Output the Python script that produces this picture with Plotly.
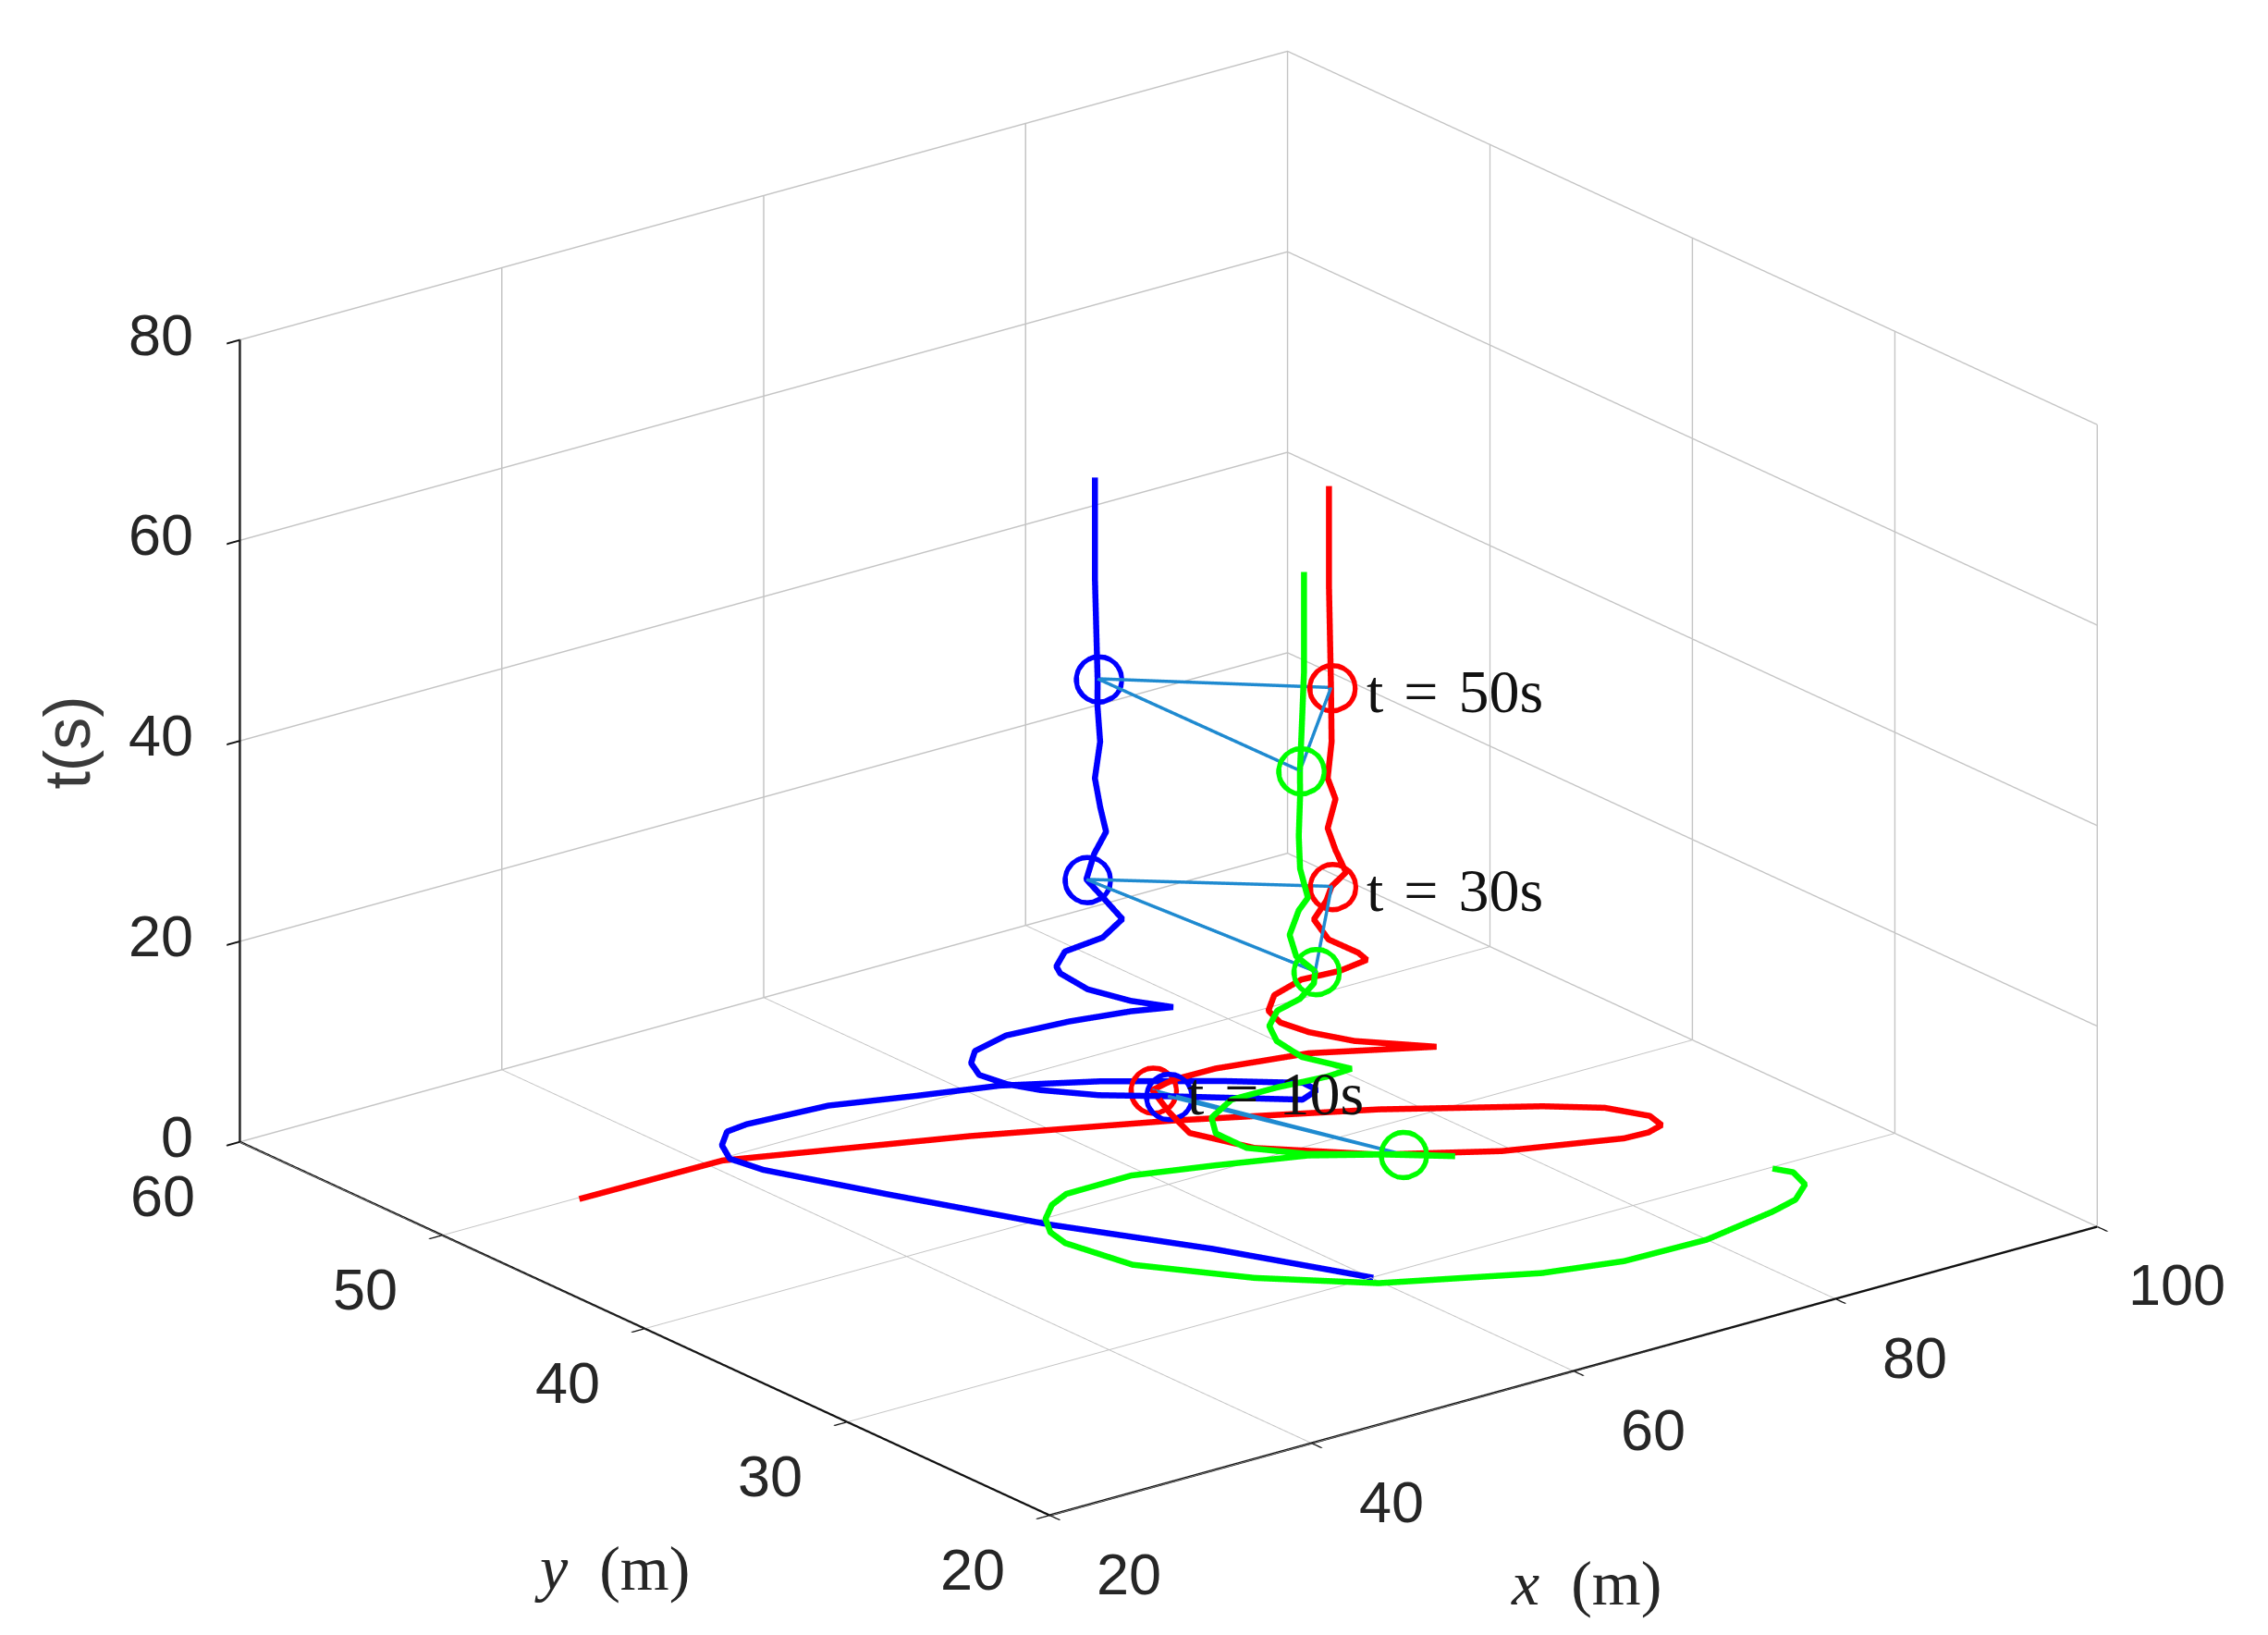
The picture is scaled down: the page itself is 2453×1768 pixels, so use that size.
import plotly.graph_objects as go

# trajectories: time (s), x (m), y (m)
blue_t = [0, 0.8, 1.6, 2.4, 3.0, 3.3, 3.6, 3.9, 4.2, 5.0, 5.8, 6.6, 7.4, 8.2, 8.8, 9.2,
          9.6, 10, 10.5, 11, 11.6, 12.4, 13.2, 14, 15, 16, 16.8, 17.4, 18, 19, 20, 20.8,
          22.2, 23.6, 25.2, 27.4, 30, 32.5, 34.5, 37, 40, 43.5, 47, 50, 60, 70]
blue_x = [60.1, 54.6, 48.5, 43.0, 39.0, 38.24, 38.95, 40.3, 41.7, 46.7, 51.05, 55.3, 59.7,
          64.8, 67.8, 67.3, 65.2, 58.7, 55.0, 52.2, 50.6, 49.4, 49.4, 50.0, 52.1, 55.5,
          58.7, 60.5, 58.5, 56.6, 55.9, 55.6, 56.1, 57.9, 59.1, 58.1, 56.5, 56.95, 57.7,
          57.4, 57.0, 57.4, 57.35, 57.05, 57.0, 57.0]
blue_y = [29.95, 34.3, 38.4, 42.95, 46.45, 47.6, 48.45, 49.07, 49.0, 48.2, 46.7, 45.3,
          43.2, 40.4, 38.4, 37.4, 36.75, 39.2, 40.2, 41.3, 41.9, 42.5, 42.9, 43.1, 42.9,
          42.0, 41.0, 40.1, 40.9, 41.8, 42.7, 42.7, 42.6, 41.9, 41.7, 42.0, 41.8, 41.7,
          41.6, 41.7, 41.7, 41.7, 41.8, 41.6, 41.7, 41.7]

red_t = [0, 0.8, 1.8, 2.6, 3.4, 4.2, 4.6, 4.9, 5.3, 5.6, 5.9, 6.8, 7.6, 8.4, 9.0, 9.5, 10,
         10.6, 11.3, 12.2, 13.2, 13.8, 14.6, 15.6, 16.8, 18.2, 19.6, 20.6, 21.4, 22.2,
         23.6, 25.4, 27.4, 30, 31.0, 33.5, 35.9, 38.6, 40.9, 44.4, 50, 60, 70]
red_x = [30.3, 40.3, 53.6, 64.1, 74.3, 81.6, 84.0, 85.0, 84.2, 82.5, 80.4, 72.3, 65.25,
         59.15, 56.97, 57.6, 58.6, 60.1, 62.5, 67.6, 73.35, 69.4, 67.3, 65.9, 65.3, 65.75,
         67.2, 68.9, 70.5, 70.0, 68.5, 68.0, 68.5, 67.5, 68.6, 67.8, 67.2, 67.8, 67.2,
         67.5, 67.3, 67.3, 67.3]
red_y = [49.9, 49.3, 45.7, 42.45, 38.85, 35.5, 33.98, 32.4, 31.3, 30.85, 30.7, 31.5, 33.0,
         35.2, 37.0, 38.4, 39.9, 39.8, 39.3, 38.0, 35.4, 36.9, 37.8, 38.3, 38.5, 38.5,
         38.1, 37.3, 37.0, 37.1, 37.6, 38.0, 37.7, 36.8, 36.8, 36.8, 36.8, 36.8, 36.8,
         36.8, 36.7, 36.8, 36.8]

green_t = [0, 0.2, 0.5, 0.85, 1.2, 2.0, 2.8, 3.5, 4.6, 5.4, 6.2, 6.8, 7.05, 7.3, 7.55, 7.8,
           8.3, 8.8, 9.3, 10, 10.4, 11.2, 12, 12.8, 13.6, 14.4, 15.2, 16.2, 17.4, 18.4,
           19.6, 21, 22.4, 24, 25.6, 27.2, 30, 31.9, 34.2, 36.4, 37.4, 40.5, 43.8, 47.7,
           50, 60, 70]
green_x = [90.5, 90.9, 89.9, 87.5, 84.8, 77.9, 70.9, 65.0, 55.0, 48.8, 43.5, 41.9, 42.05,
           42.95, 44.44, 46.0, 50.5, 55.0, 60.0, 63.9, 65.8, 61.05, 57.3, 54.2, 53.4, 54.0,
           56.0, 58.4, 60.65, 61.6, 59.2, 58.2, 57.95, 58.25, 58.9, 59.5, 57.9, 56.6, 56.1,
           56.8, 57.5, 56.9, 56.8, 56.9, 57.2, 57.2, 57.2]
green_y = [29.9, 29.14, 27.9, 26.82, 26.2, 25.0, 24.55, 24.8, 26.4, 28.5, 31.1, 33.4,
           34.23, 35.05, 35.7, 36.0, 35.7, 34.5, 33.1, 30.97, 29.6, 30.8, 31.4, 32.4, 33.4,
           34.0, 34.3, 33.6, 32.6, 32.0, 32.9, 33.5, 33.7, 33.5, 32.8, 32.5, 31.4, 31.5,
           31.5, 31.5, 31.5, 31.5, 31.5, 31.5, 31.7, 31.5, 31.5]

mark_times = [10, 30, 50]
mark_labels = ["t\u2004=\u200410s", "t\u2004=\u200430s", "t\u2004=\u200450s"]

x_ticks = [20, 40, 60, 80, 100]
y_ticks = [20, 30, 40, 50, 60]
t_ticks = [0, 20, 40, 60, 80]

agents = [
    ("blue", blue_t, blue_x, blue_y, "#0000FF"),
    ("red", red_t, red_x, red_y, "#FF0000"),
    ("green", green_t, green_x, green_y, "#00FF00"),
]


def at(ts, vs, tm):
    return vs[ts.index(tm)]


fig = go.Figure()

for name, ts, xs, ys, col in agents:
    fig.add_trace(go.Scatter3d(x=xs, y=ys, z=ts, mode="lines",
                               line=dict(color=col, width=13),
                               name=name, showlegend=False, hoverinfo="skip"))

# formation triangles at the marked times
for tm in mark_times:
    tx, ty = [], []
    for name, ts, xs, ys, col in agents + agents[:1]:
        tx.append(at(ts, xs, tm))
        ty.append(at(ts, ys, tm))
    fig.add_trace(go.Scatter3d(x=tx, y=ty, z=[tm] * len(tx), mode="lines",
                               line=dict(color="#1F8AD0", width=7),
                               showlegend=False, hoverinfo="skip"))

for name, ts, xs, ys, col in agents:
    fig.add_trace(go.Scatter3d(
        x=[at(ts, xs, tm) for tm in mark_times],
        y=[at(ts, ys, tm) for tm in mark_times],
        z=mark_times, mode="markers",
        marker=dict(symbol="circle-open", size=31, color=col),
        showlegend=False, hoverinfo="skip"))

# tick labels and time labels as upright scene annotations
tick_font = dict(family="Liberation Sans", size=63, color="#262626")
scene_ann = []
for v in x_ticks:
    scene_ann.append(dict(x=v, y=20, z=0, text=str(v), showarrow=False,
                          xanchor="center", yanchor="middle", xshift=86, yshift=-63,
                          font=tick_font))
for v in y_ticks:
    scene_ann.append(dict(x=20, y=v, z=0, text=str(v), showarrow=False,
                          xanchor="center", yanchor="middle", xshift=-83, yshift=-58,
                          font=tick_font))
for v in t_ticks:
    scene_ann.append(dict(x=20, y=60, z=v, text=str(v), showarrow=False,
                          xanchor="right", yanchor="middle", xshift=-48, yshift=6,
                          font=tick_font))
for tm, lab in zip(mark_times, mark_labels):
    scene_ann.append(dict(x=at(red_t, red_x, tm), y=at(red_t, red_y, tm), z=tm, text=lab,
                          showarrow=False, xanchor="left", yanchor="middle",
                          xshift=36, yshift=-4,
                          font=dict(family="Liberation Serif", size=66, color="#111111")))

axis_style = dict(
    showbackground=False,
    showgrid=True, gridcolor="#C4C4C4", gridwidth=3,
    showline=True, linecolor="#111111", linewidth=5,
    ticks="outside", ticklen=18, tickwidth=4, tickcolor="#111111",
    showticklabels=False,
    showspikes=False, zeroline=False,
    title=dict(text=""),
)

cen = dict(x=-0.0263, y=0.0204, z=-0.0545)

fig.update_layout(
    width=2453, height=1768,
    paper_bgcolor="white",
    margin=dict(l=0, r=0, t=0, b=0),
    scene=dict(
        xaxis=dict(range=[20, 100], tickvals=x_ticks, **axis_style),
        yaxis=dict(range=[20, 60], tickvals=y_ticks, **axis_style),
        zaxis=dict(range=[0, 80], tickvals=t_ticks, **axis_style),
        aspectmode="manual",
        aspectratio=dict(x=1.62, y=1.62, z=1.05),
        camera=dict(
            projection=dict(type="orthographic"),
            eye=dict(x=cen["x"] - 0.691, y=cen["y"] - 0.894, z=cen["z"] + 0.431),
            up=dict(x=0, y=0, z=1),
            center=cen,
        ),
        annotations=scene_ann,
    ),
    annotations=[
        dict(text="<i>x</i>\u2002(m)", x=0.696, y=0.036, xref="paper", yref="paper",
             xanchor="center", yanchor="middle", showarrow=False,
             font=dict(family="Liberation Serif", size=68, color="#262626")),
        dict(text="<i>y</i>\u2002(m)", x=0.2666, y=0.045, xref="paper", yref="paper",
             xanchor="center", yanchor="middle", showarrow=False,
             font=dict(family="Liberation Serif", size=68, color="#262626")),
        dict(text="t(s)", x=0.0265, y=0.55, xref="paper", yref="paper", textangle=-90,
             xanchor="center", yanchor="middle", showarrow=False,
             font=dict(family="Liberation Sans", size=70, color="#3A3A3A")),
    ],
)

fig.write_html("out.html")
